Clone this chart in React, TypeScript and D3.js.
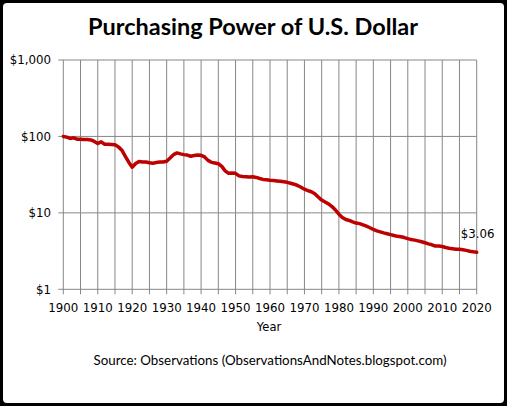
import * as d3 from 'd3'

// purchasing power of $100 from 1900, one value per year 1900..2020
const startYear = 1900
const values = [
  100, 98, 94, 96, 92, 92, 91, 91, 90, 86, // 1900s
  81, 85, 79, 79, 78.6, 78, 73, 66, 55, 46, // 1910s
  39.6, 44.2, 47.1, 46.3, 46.3, 45.3, 44.7, 45.5, 46.3, 46.3, // 1920s
  47.4, 52.1, 57.8, 60.9, 59.1, 57.8, 57.0, 55.0, 56.2, 57.0, // 1930s
  56.6, 53.9, 48.6, 45.8, 45.0, 44.0, 40.6, 35.5, 32.9, 33.3, // 1940s
  32.9, 30.5, 29.9, 29.7, 29.4, 29.6, 29.1, 28.2, 27.4, 27.2, // 1950s
  26.8, 26.5, 26.2, 25.9, 25.5, 25.1, 24.4, 23.7, 22.8, 21.6, // 1960s
  20.4, 19.6, 18.9, 17.8, 16.1, 14.7, 13.9, 13.1, 12.1, 10.9, // 1970s
  9.6, 8.7, 8.2, 7.95, 7.62, 7.36, 7.23, 6.97, 6.69, 6.39, // 1980s
  6.06, 5.81, 5.65, 5.48, 5.34, 5.2, 5.05, 4.93, 4.86, 4.75, // 1990s
  4.6, 4.47, 4.4, 4.3, 4.19, 4.06, 3.93, 3.82, 3.68, 3.69, // 2000s
  3.63, 3.52, 3.45, 3.4, 3.35, 3.34, 3.3, 3.23, 3.15, 3.1, // 2010s
  3.06, // 2020
]
const xLabels = [1900, 1910, 1920, 1930, 1940, 1950, 1960, 1970, 1980, 1990, 2000, 2010, 2020]
const gridYears = [
  1900, 1905, 1910, 1915, 1920, 1925, 1930, 1935, 1940, 1945, 1950, 1955, 1960,
  1965, 1970, 1975, 1980, 1985, 1990, 1995, 2000, 2005, 2010, 2015, 2020,
]
const yTicks = [1, 10, 100, 1000]
const yLabels = ['$1', '$10', '$100', '$1,000']
const lastLabel = '$3.06'

const W = 507
const H = 406
const tickFont = '"DejaVu Sans", Verdana, sans-serif'

const App = () => {
  const data = values.map((v, i) => ({ year: startYear + i, value: v }))
  const x = d3.scaleLinear().domain([1900, 2020]).range([63.3, 476.7])
  const y = d3.scaleLog().domain([1, 1000]).range([289.3, 60])

  const line = d3
    .line<{ year: number; value: number }>()
    .x(d => x(d.year))
    .y(d => y(d.value))

  const last = data[data.length - 1]
  const grid = '#878787'

  return (
    <svg
      width={W}
      height={H}
      style={{ position: 'absolute', left: 0, top: 0, display: 'block' }}
    >
      <rect x={0} y={0} width={W} height={H} fill="#000" />
      <rect x={3} y={3} width={W - 6} height={H - 6} rx={4} fill="#fff" />

      <text
        x={253}
        y={35}
        textAnchor="middle"
        fontFamily="Lato, 'Open Sans', sans-serif"
        fontWeight="bold"
        fontSize={23}
        textLength={330}
        lengthAdjust="spacingAndGlyphs"
        fill="#000"
      >
        Purchasing Power of U.S. Dollar
      </text>

      {/* vertical grid + x ticks */}
      {gridYears.map(yr => (
        <g key={yr}>
          <line x1={x(yr)} x2={x(yr)} y1={y(1000)} y2={y(1) + 5} stroke={grid} strokeWidth={1} />
        </g>
      ))}
      {/* horizontal grid + y ticks */}
      {yTicks.map(t => (
        <line key={t} x1={x(1900) - 5} x2={x(2020)} y1={y(t)} y2={y(t)} stroke={grid} strokeWidth={1} />
      ))}

      {yTicks.map((t, i) => (
        <text
          key={t}
          x={51}
          y={y(t)}
          dy="0.36em"
          textAnchor="end"
          fontFamily={tickFont}
          fontSize={11.8}
          fill="#000"
        >
          {yLabels[i]}
        </text>
      ))}
      {xLabels.map(yr => (
        <text
          key={yr}
          x={x(yr)}
          y={311.5}
          textAnchor="middle"
          fontFamily={tickFont}
          fontSize={11.8}
          fill="#000"
        >
          {yr}
        </text>
      ))}

      <path
        d={line(data) ?? ''}
        fill="none"
        stroke="#bd0000"
        strokeWidth={3.5}
        strokeLinejoin="round"
        strokeLinecap="round"
      />

      <text
        x={x(last.year) + 1}
        y={y(last.value) - 14}
        textAnchor="middle"
        fontFamily={tickFont}
        fontSize={11.8}
        fill="#000"
      >
        {lastLabel}
      </text>

      <text
        x={269}
        y={330.5}
        textAnchor="middle"
        fontFamily={tickFont}
        fontSize={11.5}
        fill="#000"
      >
        Year
      </text>

      <text
        x={270}
        y={365}
        textAnchor="middle"
        fontFamily="Lato, 'Open Sans', sans-serif"
        fontSize={14}
        textLength={353}
        lengthAdjust="spacingAndGlyphs"
        fill="#000"
      >
        Source: Observations (ObservationsAndNotes.blogspot.com)
      </text>
    </svg>
  )
}

export default App
